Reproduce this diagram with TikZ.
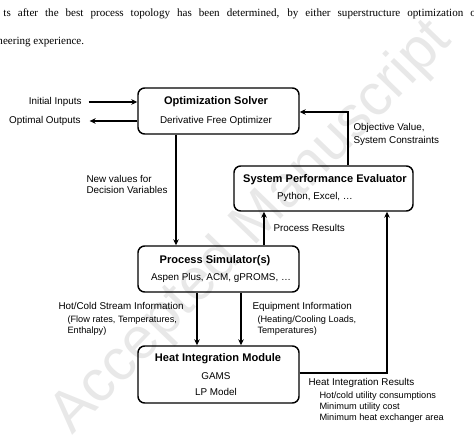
\documentclass[tikz,border=0pt]{standalone}
\usepackage{fontspec}
\setmainfont{Liberation Sans}
\newfontfamily\paperfont{Liberation Serif}
\usetikzlibrary{arrows.meta}

\tikzset{every picture/.style={line width=0.75pt}}
\tikzset{
  blockbox/.style={draw, rounded corners=5pt, line width=1.1pt, minimum width=120.75pt},
  flowarrow/.style={line width=1pt, -{Stealth[length=4.5pt,width=4.2pt]}},
  boxtitle/.style={font=\bfseries\fontsize{8.3}{9}\selectfont},
  boxtext/.style={font=\fontsize{7.4}{8}\selectfont},
  sidetext/.style={anchor=west, inner sep=0pt, font=\fontsize{7.4}{8}\selectfont},
  smalltext/.style={anchor=west, inner sep=0pt, font=\fontsize{6.9}{7}\selectfont},
  papertext/.style={anchor=west, inner sep=0pt, font=\paperfont\fontsize{8.3}{10}\selectfont},
}

\begin{document}
\begin{tikzpicture}[x=0.75pt,y=0.75pt,yscale=-1,xscale=1]
\useasboundingbox (0,0) rectangle (474,448);

% Watermark
\node (wmark) [rotate=46, text=black!9, font=\fontsize{44}{44}\selectfont] at (252,228) {Accepted Manuscript};

% Paper text
\node (paperA) [papertext] at (3,14) {\makebox[357pt][s]{ts after the best process topology has been determined, by either superstructure optimization or}};
\node (paperB) [papertext] at (-3,42) {neering experience.};

% Blocks
\node (solver) [blockbox, minimum height=34.5pt] at (218.5,111) {};
\node (spe) [blockbox, minimum width=134.25pt, minimum height=33.75pt] at (323.5,188.5) {};
\node (sim) [blockbox, minimum height=34.5pt] at (218.5,269) {};
\node (him) [blockbox, minimum height=42.75pt] at (218.5,374.5) {};

% Block texts
\node (solverT) [boxtitle] at (216,102) {Optimization Solver};
\node (solverS) [boxtext] at (216,121) {Derivative Free Optimizer};
\node (speT) [boxtitle] at (325,180) {System Performance Evaluator};
\node (speS) [boxtext] at (315,197) {Python, Excel, \dots};
\node (simT) [boxtitle] at (215,261) {Process Simulator(s)};
\node (simS) [boxtext] at (221,278) {Aspen Plus, ACM, gPROMS, \dots};
\node (himT) [boxtitle] at (218,359) {Heat Integration Module};
\node (himS) [boxtext] at (216,376) {GAMS};
\node (himL) [boxtext] at (216,392) {LP Model};

% Side texts
\node (initin) [sidetext, anchor=east] at (82,102) {Initial Inputs};
\node (optout) [sidetext, anchor=east] at (81,121) {Optimal Outputs};
\node (newval) [sidetext, align=left, font=\fontsize{7.4}{8.3}\selectfont] at (86,184.5) {New values for\\Decision Variables};
\node (objval) [sidetext, align=left, font=\fontsize{7.4}{9.75}\selectfont] at (353,134.5) {Objective Value,\\System Constraints};
\node (procres) [sidetext] at (273,228) {Process Results};
\node (hotcold) [sidetext] at (58,306) {Hot/Cold Stream Information};
\node (hotcoldA) [smalltext] at (67,320) {(Flow rates, Temperatures,};
\node (hotcoldB) [smalltext] at (67,331) {Enthalpy)};
\node (equip) [sidetext] at (252,307) {Equipment Information};
\node (equipA) [smalltext] at (257,320) {(Heating/Cooling Loads,};
\node (equipB) [smalltext] at (257,331) {Temperatures)};
\node (hires) [sidetext] at (308,383) {Heat Integration Results};
\node (hiresA) [smalltext] at (319,396) {Hot/cold utility consumptions};
\node (hiresB) [smalltext] at (319,407) {Minimum utility cost};
\node (hiresC) [smalltext] at (319,418) {Minimum heat exchanger area};

% Columns and rows of the connectors
\coordinate (colA) at (176,0);
\coordinate (colB) at (197,0);
\coordinate (colC) at (241,0);
\coordinate (colD) at (264,0);
\coordinate (colE) at (348,0);
\coordinate (colF) at (387,0);
\coordinate (rowA) at (0,112);
\coordinate (rowB) at (0,373);

% Connectors
\draw [flowarrow] ([xshift=5pt]initin.east) -- (initin.east -| solver.west);
\draw [flowarrow] (optout.east -| solver.west) -- ([xshift=6.5pt]optout.east);
\draw [flowarrow] (solver.south -| colA) -- (sim.north -| colA);
\draw [flowarrow] (spe.north -| colE) |- (solver.east |- rowA);
\draw [flowarrow] (sim.north -| colD) -- (spe.south -| colD);
\draw [flowarrow] (sim.south -| colB) -- (him.north -| colB);
\draw [flowarrow] (sim.south -| colC) -- (him.north -| colC);
\draw [flowarrow] (him.east |- rowB) -| (spe.south -| colF);

\end{tikzpicture}
\end{document}
